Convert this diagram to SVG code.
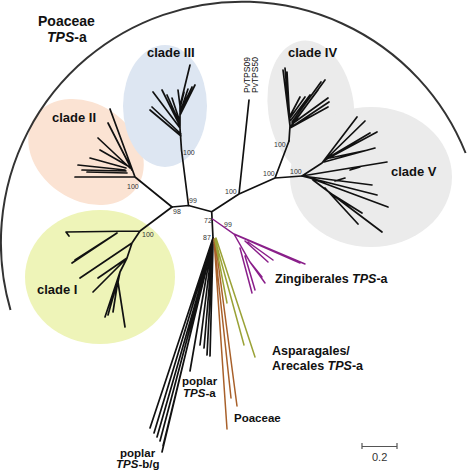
<svg xmlns="http://www.w3.org/2000/svg" width="474" height="474" viewBox="0 0 474 474">
<style>
.bg{stroke:none}
.br{fill:none;stroke:#111;stroke-width:1.7;stroke-linecap:round;stroke-linejoin:round}
.pu{fill:none;stroke:#8a1f8a;stroke-width:1.5;stroke-linecap:round}
.bn{fill:none;stroke:#a8602a;stroke-width:1.5;stroke-linecap:round}
.ol{fill:none;stroke:#9aa236;stroke-width:1.5;stroke-linecap:round}
.lab{font-family:"Liberation Sans",Arial,sans-serif;font-weight:bold;fill:#111}
.num{font-family:"Liberation Sans",Arial,sans-serif;font-size:7px;fill:#333}
.pv{font-family:"Liberation Sans",Arial,sans-serif;font-size:8.5px;fill:#111}
</style>
<rect width="474" height="474" fill="#fff"/>
<g id="backgrounds">
<ellipse class="bg" cx="100" cy="277" rx="75" ry="67" fill="#eef4b8"/>
<ellipse class="bg" cx="86" cy="152" rx="62" ry="48" fill="#fbe3d3" transform="rotate(35 86 152)"/>
<ellipse class="bg" cx="165" cy="106" rx="42" ry="61" fill="#dde6f2"/>
<ellipse class="bg" cx="311" cy="108" rx="43" ry="68" fill="#ebebeb" transform="rotate(-8 311 108)"/>
<ellipse class="bg" cx="371" cy="177" rx="81" ry="70" fill="#ebebeb"/>
</g>
<path id="arc" d="M10.5,310 A241,241 0 0 1 465.6,153" fill="none" stroke="#333" stroke-width="2"/>
<g id="connectors">
<path class="br" d="M211.7,211.7 L188.5,205.5 L172,207 M211.7,211.7 L239,194 L275,178 L302,176 M239,194 L249,100 M275,178 L289,141 M211.7,211.7 L213,238"/>
</g>
<g id="clade-III">
<path class="br" d="M188.5,205.5 L181.5,150 L180,128 L180,106 L190,65 M180,115 L195,85 M180,112 L192,87 M181,110 L188,89 M180,108 L184,92 M180,106 L178,90 M181,136 L150,110 M181,134 L152,107 M180,128 L153,92 M180,126 L162,90 M180,124 L167,95 M180,122 L172,98"/>
</g>
<g id="clade-II">
<path class="br" d="M172,207 L135,177 L110,109 M132,170 L108,123 M130,168 L98,138 M128,166 L100,150 M126,168 L90,158 M125,170 L78,165 M135,177 L75,177 M127,173 L87,172 M126,171 L82,170"/>
</g>
<g id="clade-I">
<path class="br" d="M172,207 L140,231 L66,232 L69,236 M117,233 L72,263 M114,235 L75,260 M140,231 L132,243 L80,278 M132,243 L127,258 L93,292 M127,258 L98,278 M127,258 L120,272 L118,282 L125,327 M120,272 L105,317 M119,276 L108,315 M118,280 L113,312"/>
</g>
<g id="clade-IV">
<path class="br" d="M289,141 L290,126 L283,70 M290,126 L285,68 M290,126 L287,72 M290,128 L325,80 M292,122 L321,82 M290,128 L329,102 M292,124 L328,98 M290,128 L328,107 M291,120 L310,95 M290,118 L305,97 M290,116 L300,97 M291,126 L318,90"/>
</g>
<g id="clade-V">
<path class="br" d="M302,176 L322,163 L357,117 M322,163 L365,121 M325,160 L377,132 M326,159 L370,133 M324,162 L375,148 M330,158 L368,150 M302,176 L387,162 M350,170 L360,167 M302,176 L372,185 M302,176 L377,195 M310,178 L388,207 M313,180 L382,232 M325,188 L358,224 M330,193 L362,213 M335,181 L345,178"/>
</g>
<g id="zingiberales">
<path class="pu" d="M212.5,219 L234,234 L305,264 M236,235 L300,263 M245,241 L268,262 M248,242 L273,260 M234,234 L250,262 L265,283 M250,262 L262,277 M240,248 L252,293 M245,256 L255,290"/>
</g>
<g id="poplar-bg">
<path class="br" d="M213,238 L150,428 M213,238 L154,433 M212,245 L157,437 M212,245 L160,441 M211,250 L163,446 M210,252 L162,452"/>
</g>
<g id="poplar-a">
<path class="br" d="M213,238 L190,371 M213,240 L200,345 M213,242 L204,348 M213,242 L207,355 M213,244 L210,356"/>
</g>
<g id="poaceae">
<path class="bn" d="M214,239 L227,429 M215,239 L237,406 M214,240 L231,398"/>
</g>
<g id="asparagales">
<path class="ol" d="M216,238 L255,357 M215,239 L244,345 M215,240 L227,303"/>
</g>
<g id="labels">
<text class="lab" x="38" y="26" font-size="14">Poaceae</text>
<text class="lab" x="47" y="42" font-size="14"><tspan font-style="italic">TPS</tspan>-a</text>
<text class="lab" x="147" y="57" font-size="13">clade III</text>
<text class="lab" x="52" y="122" font-size="13">clade II</text>
<text class="lab" x="288" y="57" font-size="13">clade IV</text>
<text class="lab" x="391" y="176" font-size="13">clade V</text>
<text class="lab" x="37" y="294" font-size="13">clade I</text>
<text class="pv" transform="translate(250,93) rotate(-90)">PvTPS09</text>
<text class="pv" transform="translate(258,93) rotate(-90)">PvTPS50</text>
<text class="lab" x="275" y="283" font-size="12.5">Zingiberales <tspan font-style="italic">TPS</tspan>-a</text>
<text class="lab" x="272" y="355" font-size="12.5">Asparagales/</text>
<text class="lab" x="272" y="370" font-size="12.5">Arecales <tspan font-style="italic">TPS</tspan>-a</text>
<text class="lab" x="234" y="422" font-size="11.5">Poaceae</text>
<text class="lab" x="182" y="385" font-size="11.5">poplar</text>
<text class="lab" x="183" y="397" font-size="11.5"><tspan font-style="italic">TPS</tspan>-a</text>
<text class="lab" x="120" y="457" font-size="11.5">poplar</text>
<text class="lab" x="116" y="468" font-size="11.5"><tspan font-style="italic">TPS</tspan>-b/g</text>
</g>
<g id="support">
<text class="num" x="183" y="155">100</text>
<text class="num" x="127" y="189">100</text>
<text class="num" x="189" y="203">99</text>
<text class="num" x="173" y="214">98</text>
<text class="num" x="225" y="194">100</text>
<text class="num" x="263" y="176">100</text>
<text class="num" x="290" y="174">100</text>
<text class="num" x="274" y="147">100</text>
<text class="num" x="204" y="223">72</text>
<text class="num" x="224" y="227">99</text>
<text class="num" x="203" y="240">87</text>
<text class="num" x="142" y="237">100</text>
</g>
<g id="scale">
<path d="M362,446.5 L397,446.5 M362,443 L362,449 M397,443 L397,449" fill="none" stroke="#555" stroke-width="1.2"/>
<text x="372" y="461" font-family="Liberation Sans,Arial,sans-serif" font-size="11" fill="#333">0.2</text>
</g>
</svg>
